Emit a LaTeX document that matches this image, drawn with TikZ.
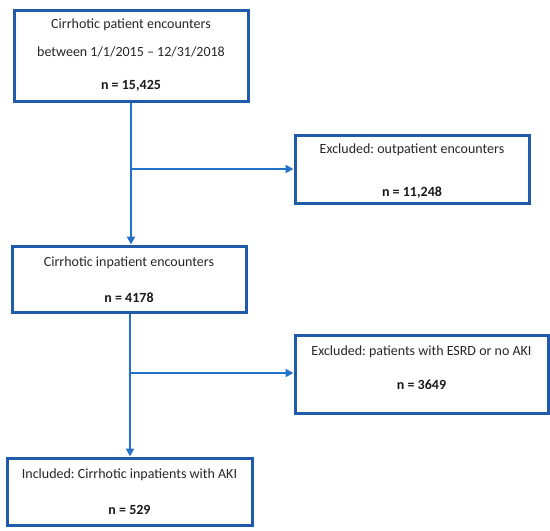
\documentclass[tikz,border=0pt]{standalone}
\usepackage{fontspec}
\setmainfont{Carlito}
\usepackage{xcolor}
\usetikzlibrary{arrows.meta}
\definecolor{boxblue}{HTML}{1F5BA8}
\definecolor{lineblue}{HTML}{2272C9}
\frenchspacing

\begin{document}
\begin{tikzpicture}[x=1pt, y=-1pt,
		box/.style={draw=boxblue, line width=3pt, inner sep=0pt},
		txt/.style={font=\fontsize{14}{16}\selectfont, text=black!85},
		num/.style={font=\fontsize{14}{16}\selectfont\bfseries, text=black!90},
		flow/.style={draw=lineblue, line width=2.4pt, -{Triangle[length=8pt,width=8pt]}}]
	\useasboundingbox (0,0) rectangle (550,531);
	\node[box, minimum width=234pt, minimum height=91pt] (P) at (131,55.5){};
	\node[box, minimum width=234pt, minimum height=68pt] (O) at (412,169){};
	\node[box, minimum width=234pt, minimum height=66pt] (I) at (129,279){};
	\node[box, minimum width=253pt, minimum height=78pt] (E) at (421.5,374){};
	\node[box, minimum width=245pt, minimum height=67pt] (K) at (129.5,491.5){};
	\node[txt] (P1) at (131,25){Cirrhotic patient encounters};
	\node[txt] (P2) at (131,52){between 1/1/2015 -- 12/31/2018};
	\node[num] (P3) at (131,86){n = 15,425};
	\node[txt] (O1) at (412,150){Excluded: outpatient encounters};
	\node[num] (O2) at (412,193){n = 11,248};
	\node[txt] (I1) at (129,263){Cirrhotic inpatient encounters};
	\node[num] (I2) at (129,298){n = 4178};
	\node[txt] (E1) at (421.5,352){Excluded: patients with ESRD or no AKI};
	\node[num] (E2) at (421.5,385){n = 3649};
	\node[txt] (K1) at (129.5,475){Included: Cirrhotic inpatients with AKI};
	\node[num] (K2) at (129.5,510){n = 529};
	\coordinate (B1) at (131,169);
	\coordinate (B2) at (130,373);
	\draw[flow] (P.south) -- (P.south |- I.north);
	\draw[flow] (B1) -- (B1 -| O.west);
	\draw[flow] (B2 |- I.south) -- (B2 |- K.north);
	\draw[flow] (B2) -- (B2 -| E.west);
\end{tikzpicture}
\end{document}
